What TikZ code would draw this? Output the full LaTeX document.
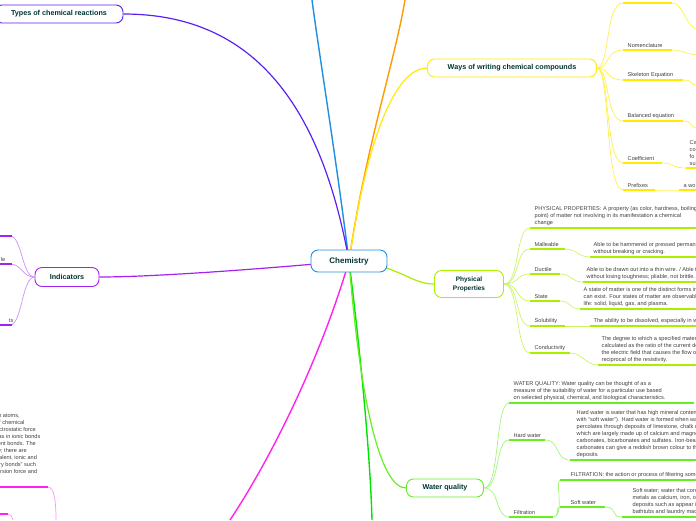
\documentclass[tikz,border=0pt]{standalone}
\usepackage{fontspec}
\setmainfont{Liberation Sans}
\begin{document}
\begin{tikzpicture}[x=1pt,y=-1pt,
  main/.style={draw,rounded corners=7pt,line width=0.9pt,fill=white,font=\fontsize{7.2}{9}\selectfont\bfseries,text=teal!40!black,inner sep=3pt},
  lbl/.style={anchor=south west,font=\fontsize{5.6}{7}\selectfont,text=black!75,inner sep=0.5pt,align=left},
  con/.style={line width=0.7pt}]
\useasboundingbox (0,0) rectangle (696,520);
\definecolor{cblue}{HTML}{1F8FE0}
\definecolor{cyel}{HTML}{FFEA00}
\definecolor{cyg}{HTML}{AAEE00}
\definecolor{cgr}{HTML}{66EE22}
\definecolor{cpur}{HTML}{A422F0}
\definecolor{cvio}{HTML}{5A22F0}
\definecolor{cmag}{HTML}{FF22EE}
\definecolor{cor}{HTML}{FF9A00}
% main branches
\coordinate (top1) at (312,0); \coordinate (top2) at (405,0);
\coordinate (bot1) at (372,520); \coordinate (bot2) at (230,520);
\draw[cblue,line width=1.4pt] (349,261) .. controls (335,150) and (320,60) .. (top1);
\draw[cor,line width=1.4pt] (349,261) .. controls (365,150) and (395,60) .. (top2);
\draw[green!90!black,line width=1.4pt] (349,261) .. controls (360,350) and (370,450) .. (bot1);
\draw[cmag,line width=1.4pt] (349,261) .. controls (320,360) and (270,460) .. (bot2);
\node[main,draw=cvio,minimum width=128pt,minimum height=18pt] (types) at (59,14) {Types of chemical reactions};
\node[main,draw=cpur,minimum width=64pt,minimum height=19pt] (ind) at (67,277) {Indicators};
\node[main,draw=cyel,minimum width=169pt,minimum height=18pt] (ways) at (512,68) {Ways of writing chemical compounds};
\node[main,draw=cyg,minimum width=69pt,minimum height=27pt,align=center,font=\fontsize{6.5}{9}\selectfont\bfseries] (phys) at (469,284) {Physical\\Properties};
\node[main,draw=cgr,minimum width=77pt,minimum height=18pt] (wq) at (445,488) {Water quality};
\draw[cvio,line width=1.2pt] (349,261) .. controls (320,100) and (250,14) .. (types.east);
\draw[cpur,line width=1.2pt] (349,261) .. controls (250,270) and (150,277) .. (ind.east);
\draw[cyel,line width=1.2pt] (349,261) .. controls (370,120) and (400,68) .. (ways.west);
\draw[cyg,line width=1.2pt] (349,261) .. controls (400,265) and (410,284) .. (phys.west);
\draw[cgr,line width=1.2pt] (349,261) .. controls (360,400) and (380,488) .. (wq.west);
\node[main,draw=cblue,minimum width=76pt,minimum height=22pt,font=\fontsize{8}{10}\selectfont\bfseries] (chem) at (349,261) {Chemistry};

% Ways children
\begin{scope}[cyel!70]
\foreach \y/\x/\t/\cx/\cy in {3/672//700/30, 50/672/Nomenclature/700/55, 80/683/Skeleton Equation/700/85, 121/683/Balanced equation/700/128, 163/662/Coefficient/686/168, 190/655/Prefixes/679/190}{
  \draw[con] (ways.east) .. controls (610,68) and (605,\y) .. (623,\y) -- (\x,\y);
  \draw[cyel,line width=1.2pt] (623,\y) -- (\x,\y);
  \draw[con] (\x,\y) .. controls (\x+12,\y) and (\cx-14,\cy) .. (\cx,\cy) -- (696,\cy);
}
\end{scope}
\foreach \y/\t in {50/Nomenclature,80/Skeleton Equation,121/Balanced equation,163/Coefficient,190/Prefixes}
  \node[lbl] at (627,\y-2) {\t};
\node[lbl] at (689,166) {Ca\\co\\fo\\su};
\node[lbl] at (683,188) {a wo};
\draw[cyel,line width=1.2pt] (686,168) -- (696,168) (679,190) -- (696,190);

% Physical properties
\begin{scope}[cyg!60]
\foreach \y in {228,249,274,301,326,353}
  \draw[con] (phys.east) .. controls (520,284) and (515,\y) .. (530,\y);
\end{scope}
\draw[cyg,line width=1.2pt] (530,228) -- (696,228);
\node[lbl] at (534,226) {PHYSICAL PROPERTIES: A property (as color, hardness, boiling\\point) of matter not involving in its manifestation a chemical\\change};
\foreach \y/\x/\t/\cx/\cy/\c in {
  249/565/Malleable/590/257/{Able to be hammered or pressed permanently out of shape\\without breaking or cracking.},
  274/560/Ductile/583/282/{Able to be drawn out into a thin wire. / Able to be deformed\\without losing toughness; pliable, not brittle.},
  301/560/State/580/309/{A state of matter is one of the distinct forms in which matter\\can exist. Four states of matter are observable in everyday\\life: solid, liquid, gas, and plasma.},
  326/565/Solubility/590/326/{The ability to be dissolved, especially in water.},
  353/570/Conductivity/598/365/{The degree to which a specified material conducts electricity,\\calculated as the ratio of the current density in the material to\\the electric field that causes the flow of current. It is the\\reciprocal of the resistivity.}}{
  \draw[cyg!60,con] (\x,\y) .. controls (\x+12,\y) and (\cx-12,\cy) .. (\cx,\cy);
  \draw[cyg,line width=1.2pt] (530,\y) -- (\x,\y) (\cx,\cy) -- (696,\cy);
  \node[lbl] at (534,\y-2) {\t};
  \node[lbl] at (\cx+3,\cy-2) {\c};
}

% Water quality
\begin{scope}[cgr!60]
\foreach \y in {403,440,517}
  \draw[con] (wq.east) .. controls (500,488) and (495,\y) .. (509,\y);
\end{scope}
\draw[cgr,line width=1.2pt] (509,403) -- (694,403) (509,440) -- (545,440) (509,517) -- (553,517);
\node[lbl] at (513,401) {WATER QUALITY: Water quality can be thought of as a\\measure of the suitability of water for a particular use based\\on selected physical, chemical, and biological characteristics.};
\node[lbl] at (513,438) {Hard water};
\node[lbl] at (513,515) {Filtration};
\draw[cgr!60,con] (545,440) .. controls (560,440) and (555,460) .. (570,460);
\draw[cgr,line width=1.2pt] (570,460) -- (696,460);
\node[lbl] at (576,458) {Hard water is water that has high mineral content (in contrast\\with ``soft water''). Hard water is formed when water\\percolates through deposits of limestone, chalk or gypsum\\which are largely made up of calcium and magnesium\\carbonates, bicarbonates and sulfates. Iron-bearing\\carbonates can give a reddish brown colour to the\\deposits};
\draw[cgr!60,con] (553,517) .. controls (565,517) and (555,480) .. (560,480) (553,517) .. controls (560,517) and (555,507) .. (560,507);
\draw[cgr,line width=1.2pt] (560,480) -- (696,480) (560,507) -- (605,507);
\node[lbl] at (570,478) {FILTRATION: the action or process of filtering something.};
\node[lbl] at (570,505) {Soft water};
\draw[cgr!60,con] (605,507) .. controls (618,507) and (610,517) .. (622,517);
\draw[cgr,line width=1.2pt] (622,517) -- (696,517);
\node[lbl] at (632,515) {Soft water; water that contains few\\metals as calcium, iron, or magnesium\\deposits such as appear in kettles,\\bathtubs and laundry machines.};

% Indicators children
\begin{scope}[cpur!50]
\foreach \y in {236,264,325}
  \draw[con] (ind.west) .. controls (22,277) and (22,\y) .. (10,\y);
\end{scope}
\draw[cpur,line width=1.2pt] (0,236) -- (12,236) (0,264) -- (12,264) (0,325) -- (12,325);
\node[lbl,anchor=south east] at (6,262) {le};
\node[lbl,anchor=south east] at (14,323) {ts};

% Magenta left
\node[lbl,anchor=south west] at (-116,475) {A chemical bond is a lasting attraction between atoms,\\ions or molecules that enables the formation of chemical\\compounds. The bond may result from the electrostatic force\\of attraction between oppositely charged ions as in ionic bonds\\or through the sharing of electrons as in covalent bonds. The\\strength of chemical bonds varies considerably; there are\\``strong bonds'' or ``primary bonds'' such as covalent, ionic and\\metallic bonds, and ``weak bonds'' or ``secondary bonds'' such\\as dipole-dipole interactions, the London dispersion force and};
\draw[cmag,line width=1.2pt] (0,487) -- (48,487) (0,514) -- (8,514);
\draw[cmag!50,con] (48,487) .. controls (54,487) and (56,500) .. (56,520);
\draw[cmag!50,con] (8,514) .. controls (10,514) and (12,516) .. (13,520);
\end{tikzpicture}
\end{document}
